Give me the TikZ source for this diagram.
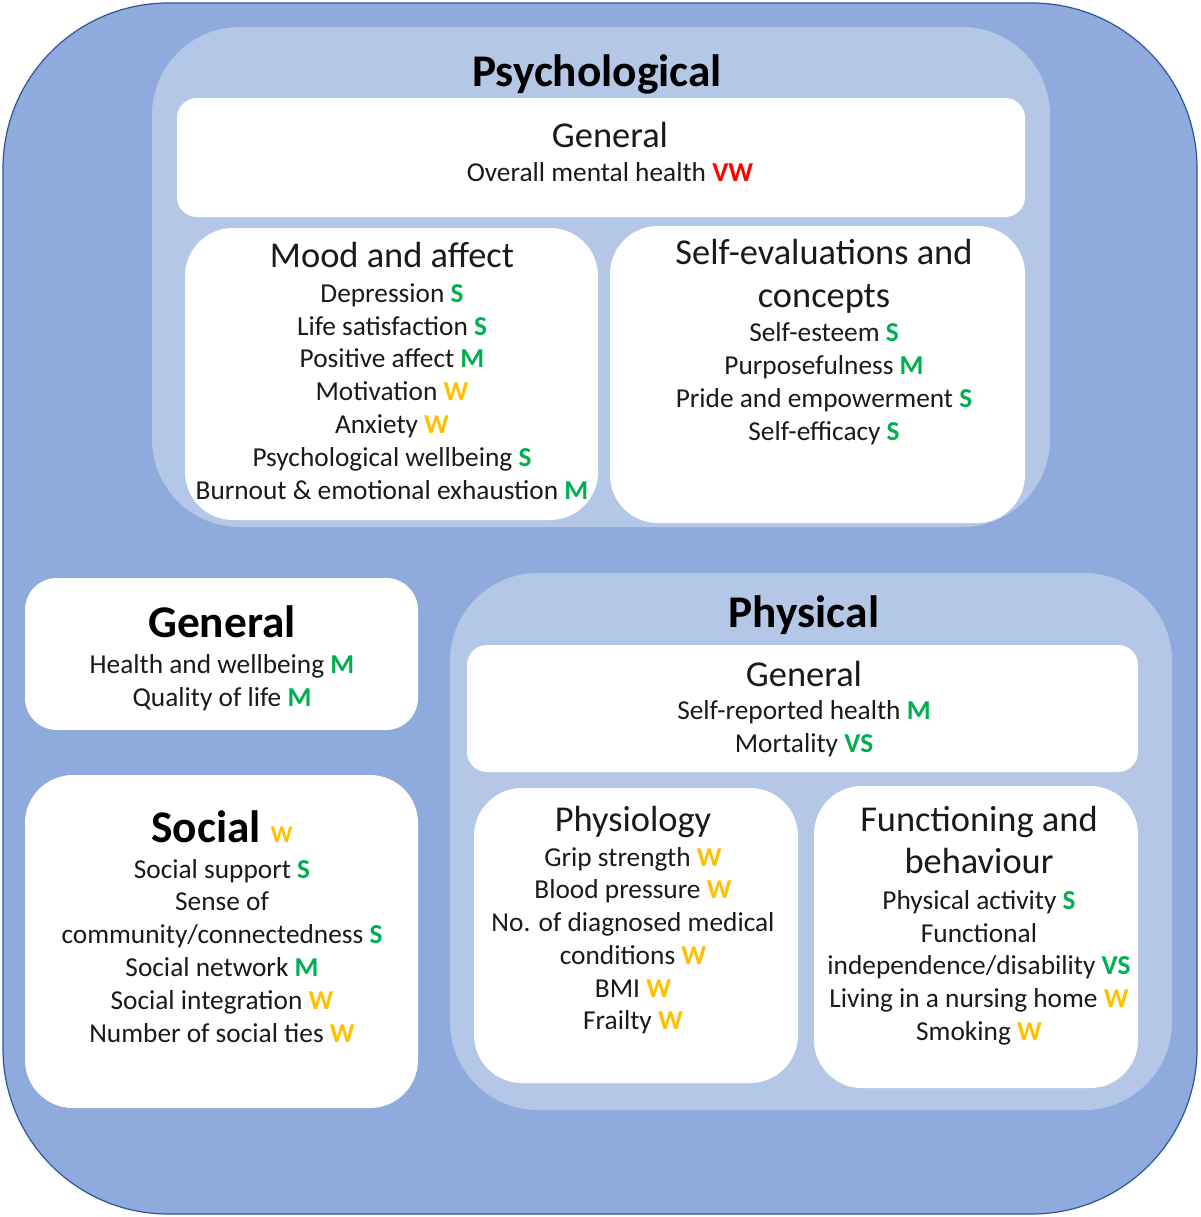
\documentclass[tikz,border=0pt]{standalone}
\usepackage{fontspec}
\setmainfont{Carlito}
\definecolor{outerblue}{HTML}{8FAADC}
\definecolor{edgeblue}{HTML}{2F5597}
\definecolor{lightblue}{HTML}{B4C7E7}
\definecolor{sgreen}{HTML}{00B050}
\definecolor{syellow}{HTML}{FFC000}
\definecolor{sred}{HTML}{FF0000}
\definecolor{txt}{HTML}{1A1A1A}
\newcommand\grn[1]{\textcolor{sgreen}{\textbf{#1}}}
\newcommand\yel[1]{\textcolor{syellow}{\textbf{#1}}}
\newcommand\rd[1]{\textcolor{sred}{\textbf{#1}}}
\tikzset{
  outerbox/.style={fill=outerblue, draw=edgeblue, line width=0.9pt, rounded corners=124pt},
  groupbox/.style={fill=lightblue, rounded corners=66pt},
  genbox/.style={fill=white, rounded corners=15pt},
  subbox/.style={fill=white, rounded corners=36pt},
  leftbox/.style={fill=white, rounded corners=24pt},
  itemtext/.style={anchor=base, inner sep=0pt, text=txt, font=\fontsize{20.5}{24}\selectfont},
  subtitle/.style={anchor=base, inner sep=0pt, text=txt, font=\fontsize{27.3}{32}\selectfont},
  maintitle/.style={anchor=base, inner sep=0pt, text=black, font=\fontsize{34}{40}\selectfont\bfseries},
}
\begin{document}
\begin{tikzpicture}[x=0.75pt,y=-0.75pt]
\useasboundingbox (0,0) rectangle (1200,1217);
% outer
\path[outerbox] (3,3) rectangle (1197,1214);
% psychological group
\path[groupbox] (152,27) rectangle (1050,527);
\path[genbox] (177,98) rectangle (1025,217);
\path[subbox] (185,228) rectangle (598,520);
\path[subbox] (610,226) rectangle (1025,523);
% left boxes
\path[leftbox] (25,578) rectangle (418,730);
\path[subbox] (25,775) rectangle (418,1108);
% physical group
\path[groupbox] (450,573) rectangle (1172,1110);
\path[genbox] (467,645) rectangle (1138,772);
\path[subbox] (474,788) rectangle (798,1083);
\path[subbox] (814,786) rectangle (1138,1088);

% Psychological
\node[maintitle] (psy) at (597,86) {Psychological};
\node[subtitle] (pgen) at (610,147) {General};
\node[itemtext] (pg1) at (610,181) {Overall mental health \rd{VW}};
\node[subtitle] (mood) at (392,267) {Mood and affect};
\node[itemtext] (m1) at (392,302) {Depression \grn{S}};
\node[itemtext] (m2) at (392,335) {Life satisfaction \grn{S}};
\node[itemtext] (m3) at (392,367) {Positive affect \grn{M}};
\node[itemtext] (m4) at (392,400) {Motivation \yel{W}};
\node[itemtext] (m5) at (392,433) {Anxiety \yel{W}};
\node[itemtext] (m6) at (392,466) {Psychological wellbeing \grn{S}};
\node[itemtext] (m7) at (392,499) {Burnout \& emotional exhaustion \grn{M}};
\node[subtitle] (self1) at (824,264) {Self-evaluations and};
\node[subtitle] (self2) at (824,307) {concepts};
\node[itemtext] (s1) at (824,341) {Self-esteem \grn{S}};
\node[itemtext] (s2) at (824,374) {Purposefulness \grn{M}};
\node[itemtext] (s3) at (824,407) {Pride and empowerment \grn{S}};
\node[itemtext] (s4) at (824,440) {Self-efficacy \grn{S}};

% Left General
\node[maintitle] (lgen) at (222,637) {General};
\node[itemtext] (lg1) at (222,673) {Health and wellbeing \grn{M}};
\node[itemtext] (lg2) at (222,706) {Quality of life \grn{M}};

% Social
\node[maintitle] (soc) at (222,842) {Social {\fontsize{18}{20}\selectfont\yel{W}}};
\node[itemtext] (so1) at (222,878) {Social support \grn{S}};
\node[itemtext] (so2) at (222,910) {Sense of};
\node[itemtext] (so3) at (222,943) {community/connectedness \grn{S}};
\node[itemtext] (so4) at (222,976) {Social network \grn{M}};
\node[itemtext] (so5) at (222,1009) {Social integration \yel{W}};
\node[itemtext] (so6) at (222,1042) {Number of social ties \yel{W}};

% Physical
\node[maintitle] (phy) at (804,627) {Physical};
\node[subtitle] (phgen) at (804,686) {General};
\node[itemtext] (pb1) at (804,719) {Self-reported health \grn{M}};
\node[itemtext] (pb2) at (804,752) {Mortality \grn{VS}};
\node[subtitle] (physio) at (633,831) {Physiology};
\node[itemtext] (ph1) at (633,866) {Grip strength \yel{W}};
\node[itemtext] (ph2) at (633,898) {Blood pressure \yel{W}};
\node[itemtext] (ph3) at (633,931) {No. of diagnosed medical};
\node[itemtext] (ph4) at (633,964) {conditions \yel{W}};
\node[itemtext] (ph5) at (633,997) {BMI \yel{W}};
\node[itemtext] (ph6) at (633,1029) {Frailty \yel{W}};
\node[subtitle] (fun1) at (979,831) {Functioning and};
\node[subtitle] (fun2) at (979,873) {behaviour};
\node[itemtext] (f1) at (979,909) {Physical activity \grn{S}};
\node[itemtext] (f2) at (979,942) {Functional};
\node[itemtext] (f3) at (979,974) {independence/disability \grn{VS}};
\node[itemtext] (f4) at (979,1007) {Living in a nursing home \yel{W}};
\node[itemtext] (f5) at (979,1040) {Smoking \yel{W}};
\end{tikzpicture}
\end{document}
